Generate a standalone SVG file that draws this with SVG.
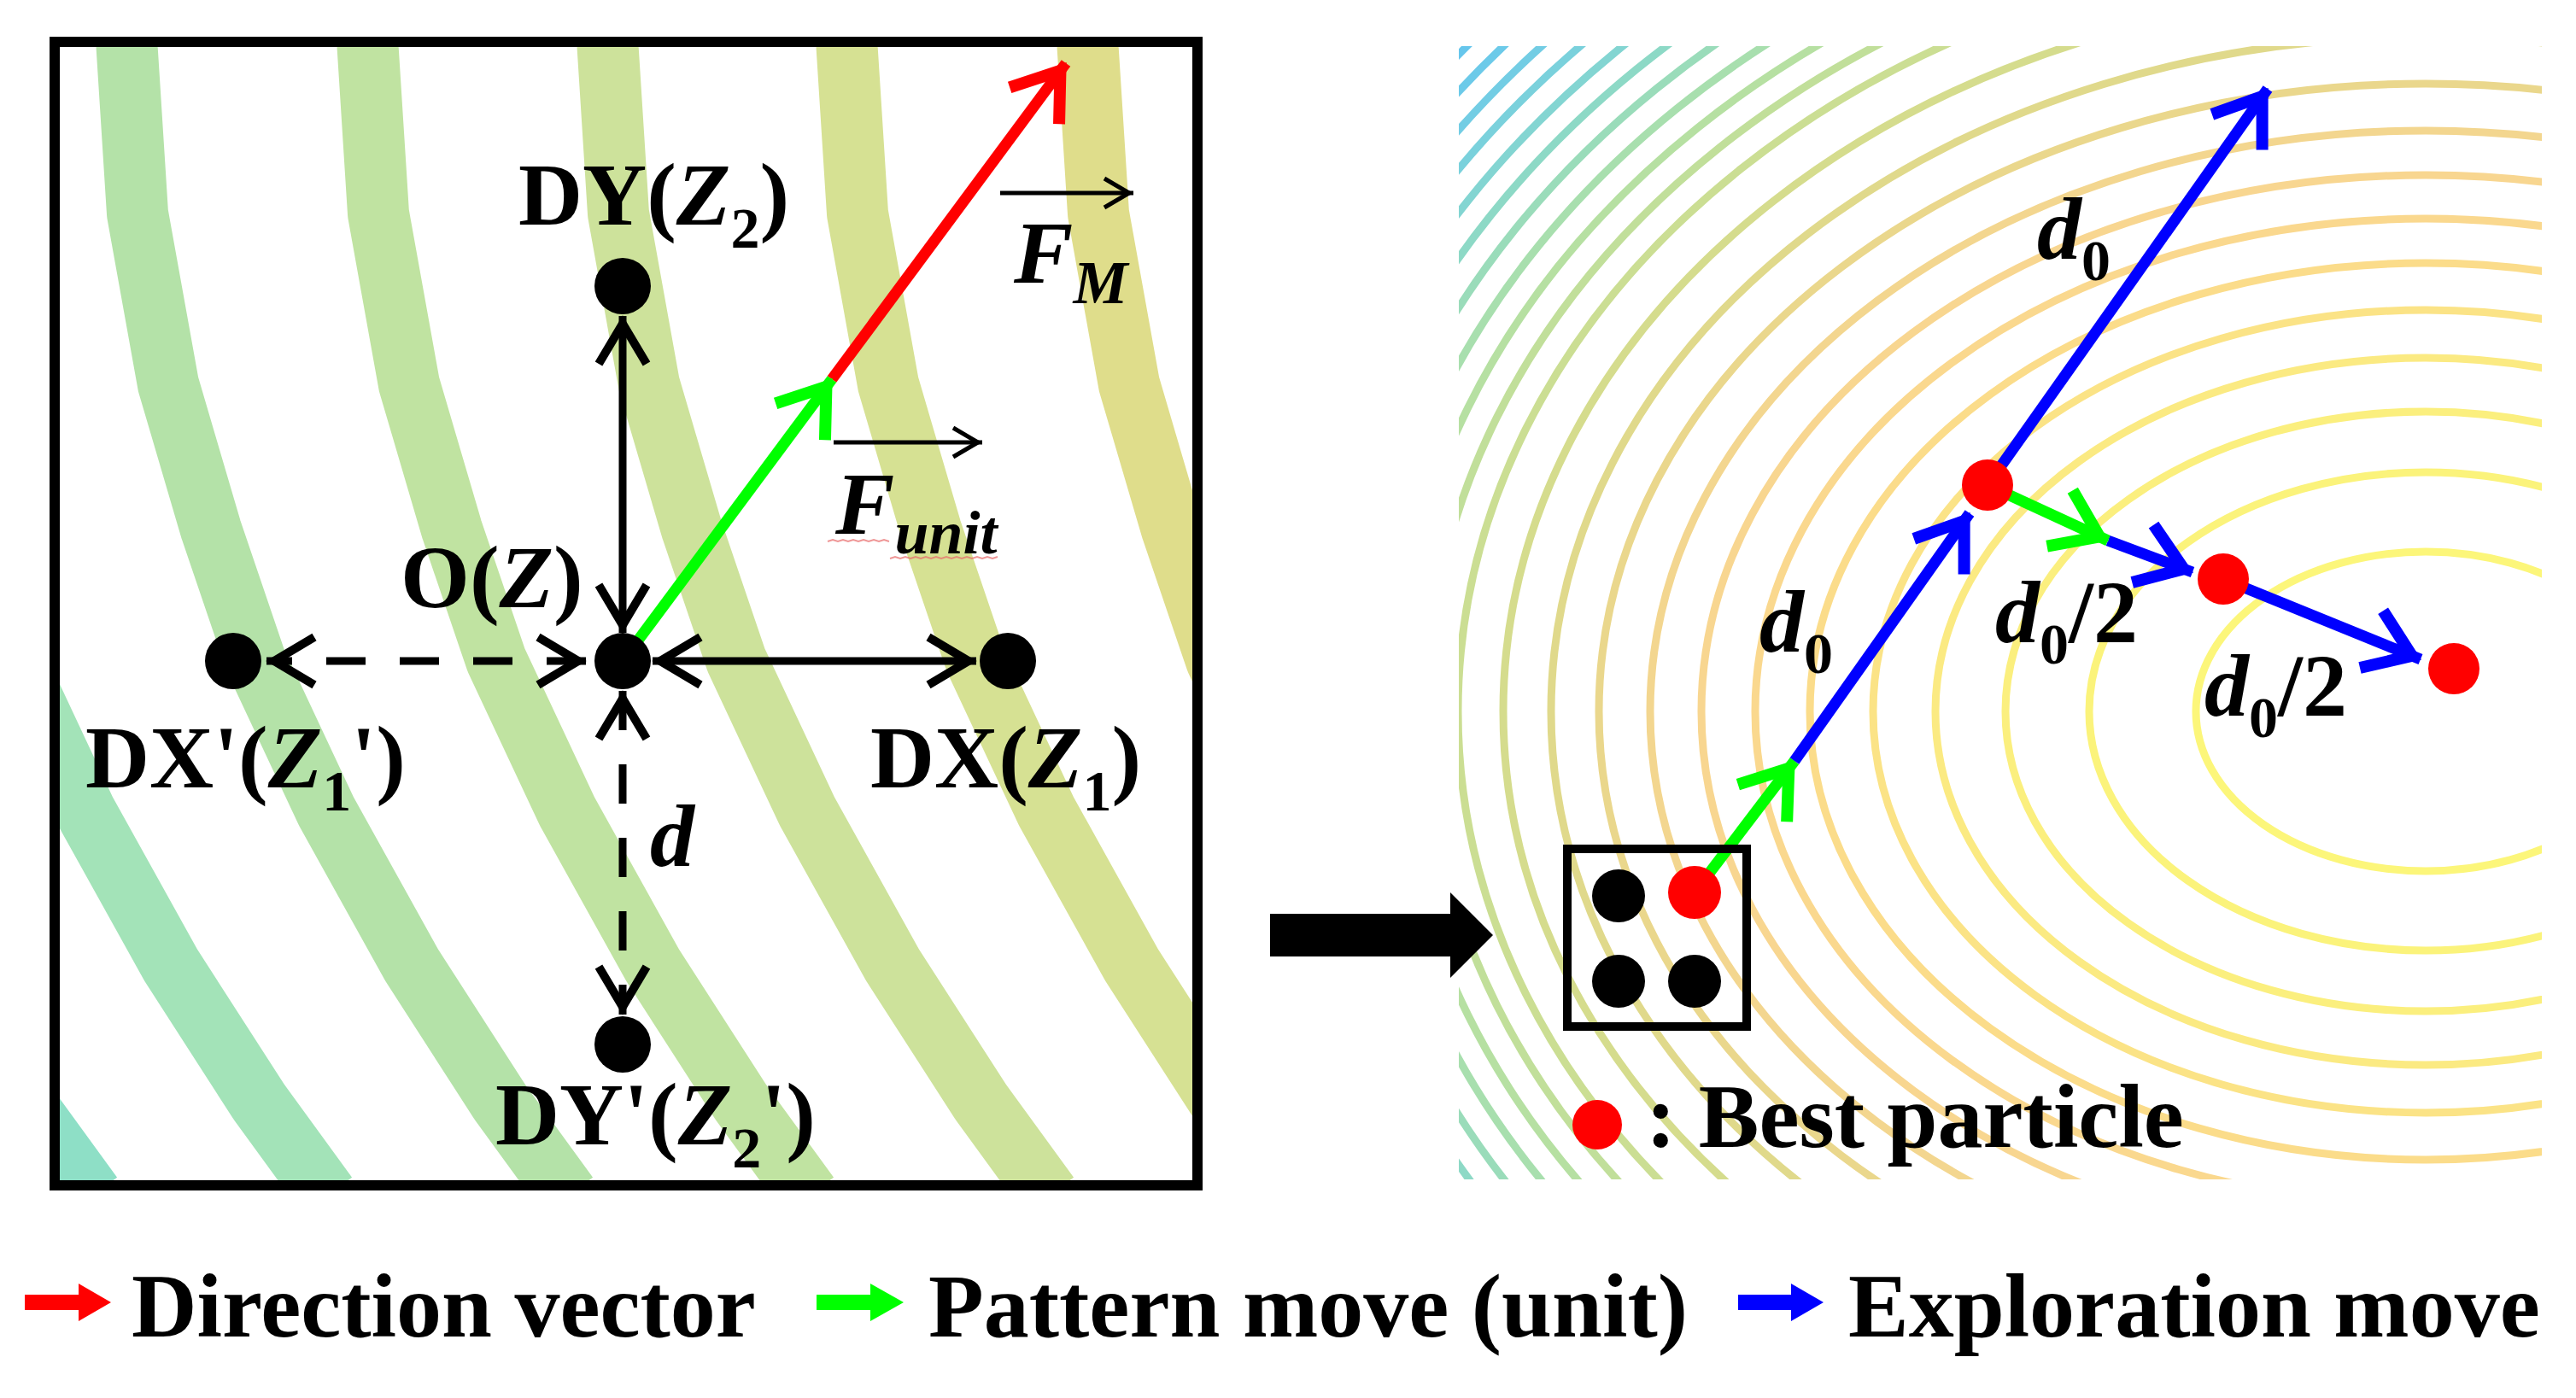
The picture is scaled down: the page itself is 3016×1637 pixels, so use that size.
<svg xmlns="http://www.w3.org/2000/svg" width="3016" height="1637" viewBox="0 0 3016 1637">
<style>
text{font-family:"Liberation Serif","Times New Roman",serif;font-weight:bold;fill:#000}
.lb{font-size:104px}
.it{font-style:italic}
.sub{font-size:68px}
.band{fill:none;stroke-width:72;stroke-linejoin:round}
.ct{fill:none;stroke-width:9}
.blk{stroke:#000;stroke-width:9;fill:none}
.dash{stroke-dasharray:46 40}
</style>
<defs>
<clipPath id="lclip"><rect x="70" y="55" width="1326" height="1328"/></clipPath>
<clipPath id="rclip"><rect x="1708" y="54" width="1268" height="1327"/></clipPath>
<marker id="hk" markerUnits="userSpaceOnUse" markerWidth="10" markerHeight="10" refX="0" refY="0" orient="auto-start-reverse" overflow="visible"><path d="M-56,-28 L-9,0 L-56,28" fill="none" stroke="#000" stroke-width="10"/></marker>
<marker id="hs" markerUnits="userSpaceOnUse" markerWidth="10" markerHeight="10" refX="0" refY="0" orient="auto" overflow="visible"><path d="M-34,-17 L-5,0 L-34,17" fill="none" stroke="#000" stroke-width="5"/></marker>
<marker id="hg" markerUnits="userSpaceOnUse" markerWidth="10" markerHeight="10" refX="0" refY="0" orient="auto" overflow="visible"><path d="M-62,-36 L-11,0 L-62,36" fill="none" stroke="#00ff00" stroke-width="14"/></marker>
<marker id="hr" markerUnits="userSpaceOnUse" markerWidth="10" markerHeight="10" refX="0" refY="0" orient="auto" overflow="visible"><path d="M-62,-36 L-11,0 L-62,36" fill="none" stroke="#ff0000" stroke-width="14"/></marker>
<marker id="hb" markerUnits="userSpaceOnUse" markerWidth="10" markerHeight="10" refX="0" refY="0" orient="auto" overflow="visible"><path d="M-62,-36 L-11,0 L-62,36" fill="none" stroke="#0000ff" stroke-width="14"/></marker>
<polyline id="bandpath" points="0,30 14,250 50,450 100,620 152,773 235,950 335,1130 438,1290 518,1400"/>
</defs>

<g id="left-panel-background" clip-path="url(#lclip)">
<use href="#bandpath" class="band" x="-410" stroke="#8edfc6"/>
<use href="#bandpath" class="band" x="-135" stroke="#a3e3b8"/>
<use href="#bandpath" class="band" x="147" stroke="#b4e2a8"/>
<use href="#bandpath" class="band" x="429" stroke="#c0e3a1"/>
<use href="#bandpath" class="band" x="710" stroke="#cde29b"/>
<use href="#bandpath" class="band" x="990" stroke="#d6e193"/>
<use href="#bandpath" class="band" x="1272" stroke="#dfdd8b"/>
</g>
<rect id="left-frame" x="64" y="49" width="1338" height="1339" fill="none" stroke="#000" stroke-width="12"/>

<g id="right-panel-background" clip-path="url(#rclip)">
<g class="ct">
<ellipse cx="2840" cy="833" rx="1490" ry="1241" stroke="#62c3ee"/>
<ellipse cx="2840" cy="833" rx="1461" ry="1217" stroke="#66c6ec"/>
<ellipse cx="2840" cy="833" rx="1431" ry="1187" stroke="#6ccae9"/>
<ellipse cx="2840" cy="833" rx="1401" ry="1156" stroke="#73cde4"/>
<ellipse cx="2840" cy="833" rx="1371" ry="1126" stroke="#7ad1dc"/>
<ellipse cx="2840" cy="833" rx="1339" ry="1094" stroke="#83d5d2"/>
<ellipse cx="2840" cy="833" rx="1307" ry="1063" stroke="#8dd9c6"/>
<ellipse cx="2840" cy="833" rx="1274" ry="1031" stroke="#9adcba"/>
<ellipse cx="2840" cy="833" rx="1240" ry="998" stroke="#a8dfae"/>
<ellipse cx="2840" cy="833" rx="1206" ry="966" stroke="#b6e0a2"/>
<ellipse cx="2840" cy="833" rx="1170" ry="933" stroke="#c1df9a"/>
<ellipse cx="2840" cy="833" rx="1133" ry="899" stroke="#cbde93"/>
<ellipse cx="2840" cy="833" rx="1080" ry="845" stroke="#d5dc8d"/>
<ellipse cx="2840" cy="833" rx="1024" ry="790" stroke="#e0d98b"/>
<ellipse cx="2840" cy="833" rx="968" ry="735" stroke="#ead78c"/>
<ellipse cx="2840" cy="833" rx="908" ry="680" stroke="#f3d68f"/>
<ellipse cx="2840" cy="833" rx="848" ry="628" stroke="#f8d690"/>
<ellipse cx="2840" cy="833" rx="785" ry="577" stroke="#fad88e"/>
<ellipse cx="2840" cy="833" rx="721" ry="525" stroke="#fbdc8a"/>
<ellipse cx="2840" cy="833" rx="647" ry="470" stroke="#fbe386"/>
<ellipse cx="2840" cy="833" rx="574" ry="414" stroke="#fbea82"/>
<ellipse cx="2840" cy="833" rx="492" ry="351" stroke="#fbef7e"/>
<ellipse cx="2840" cy="833" rx="394" ry="280" stroke="#fbf37b"/>
<ellipse cx="2840" cy="833" rx="269" ry="187" stroke="#fcf67a"/>
</g>
</g>

<g id="connectors">
<line x1="729" y1="741" x2="729" y2="370" class="blk" marker-start="url(#hk)" marker-end="url(#hk)"/>
<line x1="764" y1="774" x2="1143" y2="774" class="blk" marker-start="url(#hk)" marker-end="url(#hk)"/>
<line x1="686" y1="774" x2="312" y2="774" class="blk dash" marker-start="url(#hk)" marker-end="url(#hk)"/>
<line x1="729" y1="809" x2="729" y2="1188" class="blk dash" marker-start="url(#hk)" marker-end="url(#hk)"/>
<line x1="974" y1="444" x2="1248" y2="74" stroke="#ff0000" stroke-width="13" marker-end="url(#hr)"/>
<line x1="729" y1="774" x2="974" y2="444" stroke="#00ff00" stroke-width="13" marker-end="url(#hg)"/>
<line x1="1171" y1="226" x2="1327" y2="226" stroke="#000" stroke-width="5" marker-end="url(#hs)"/>
<line x1="976" y1="518" x2="1150" y2="518" stroke="#000" stroke-width="5" marker-end="url(#hs)"/>
<path d="M969,634 l6,-2 l6,2 l6,-2 l6,2 l6,-2 l6,2 l6,-2 l6,2 l6,-2 l6,2 l6,-2 l6,2 M1042,654 l6,-2 l6,2 l6,-2 l6,2 l6,-2 l6,2 l6,-2 l6,2 l6,-2 l6,2 l6,-2 l6,2 l6,-2 l6,2 l6,-2 l6,2 l6,-2 l6,2 l6,-2 l6,2 l6,-2" fill="none" stroke="#e86a6a" stroke-width="2" opacity="0.7"/>
<polygon points="1487,1070 1698,1070 1698,1045 1748,1095 1698,1145 1698,1120 1487,1120" fill="#000"/>
<line x1="1984" y1="1045" x2="2101" y2="891" stroke="#00ff00" stroke-width="13" marker-end="url(#hg)"/>
<line x1="2101" y1="891" x2="2306" y2="601" stroke="#0000ff" stroke-width="13" marker-end="url(#hb)"/>
<line x1="2327" y1="568" x2="2655" y2="104" stroke="#0000ff" stroke-width="13" marker-end="url(#hb)"/>
<line x1="2468" y1="633" x2="2567" y2="670" stroke="#0000ff" stroke-width="13" marker-end="url(#hb)"/>
<line x1="2327" y1="568" x2="2468" y2="633" stroke="#00ff00" stroke-width="13" marker-end="url(#hg)"/>
<line x1="2603" y1="678" x2="2834" y2="772" stroke="#0000ff" stroke-width="13" marker-end="url(#hb)"/>
</g>

<g id="node-O"><circle cx="729" cy="774" r="33"/><text class="lb" x="469" y="711">O(<tspan class="it">Z</tspan>)</text></g>
<g id="node-DY"><circle cx="729" cy="335" r="33"/><text class="lb" x="607" y="263">DY(<tspan class="it">Z</tspan><tspan class="sub" y="290">2</tspan><tspan y="263">)</tspan></text></g>
<g id="node-DYp"><circle cx="729" cy="1223" r="33"/><text class="lb" x="580" y="1340">DY'(<tspan class="it">Z</tspan><tspan class="sub" y="1367">2</tspan><tspan y="1340">')</tspan></text></g>
<g id="node-DXp"><circle cx="273" cy="774" r="33"/><text class="lb" x="100" y="922">DX'(<tspan class="it">Z</tspan><tspan class="sub" y="949">1</tspan><tspan y="922">')</tspan></text></g>
<g id="node-DX"><circle cx="1180" cy="774" r="33"/><text class="lb" x="1019" y="922">DX(<tspan class="it">Z</tspan><tspan class="sub" y="949">1</tspan><tspan y="922">)</tspan></text></g>
<g id="label-d"><text class="lb it" x="761" y="1014">d</text></g>
<g id="label-FM"><text class="lb it" x="1187" y="331">F<tspan font-size="72" y="355">M</tspan></text></g>
<g id="label-Funit"><text class="lb it" x="978" y="625">F<tspan font-size="72" y="648">unit</tspan></text></g>

<g id="particle-box">
<rect x="1835" y="994" width="210" height="208" fill="none" stroke="#000" stroke-width="10"/>
<circle cx="1895" cy="1049" r="31"/>
<circle cx="1984" cy="1045" r="31" fill="#ff0000"/>
<circle cx="1895" cy="1149" r="31"/>
<circle cx="1984" cy="1149" r="31"/>
</g>
<g id="best-1"><circle cx="2327" cy="568" r="30" fill="#ff0000"/></g>
<g id="best-2"><circle cx="2603" cy="678" r="30" fill="#ff0000"/></g>
<g id="best-3"><circle cx="2873" cy="783" r="30" fill="#ff0000"/></g>
<g id="labels-right">
<text class="lb" x="2385" y="303"><tspan class="it">d</tspan><tspan class="sub" y="328">0</tspan></text>
<text class="lb" x="2060" y="763"><tspan class="it">d</tspan><tspan class="sub" y="788">0</tspan></text>
<text class="lb" x="2336" y="752"><tspan class="it">d</tspan><tspan class="sub" y="777">0</tspan><tspan y="752">/2</tspan></text>
<text class="lb" x="2581" y="838"><tspan class="it">d</tspan><tspan class="sub" y="863">0</tspan><tspan y="838">/2</tspan></text>
</g>
<g id="legend-best"><circle cx="1870" cy="1317" r="29" fill="#ff0000"/><text x="1927" y="1343" font-size="106">: Best particle</text></g>

<g id="legend">
<polygon points="29,1516 92,1516 92,1503 130,1525 92,1547 92,1534 29,1534" fill="#ff0000"/>
<text x="154" y="1565" font-size="106">Direction vector</text>
<polygon points="956,1516 1019,1516 1019,1503 1058,1525 1019,1547 1019,1534 956,1534" fill="#00ff00"/>
<text x="1087" y="1565" font-size="106">Pattern move (unit)</text>
<polygon points="2035,1516 2097,1516 2097,1503 2135,1525 2097,1547 2097,1534 2035,1534" fill="#0000ff"/>
<text x="2164" y="1565" font-size="106">Exploration move</text>
</g>
</svg>
